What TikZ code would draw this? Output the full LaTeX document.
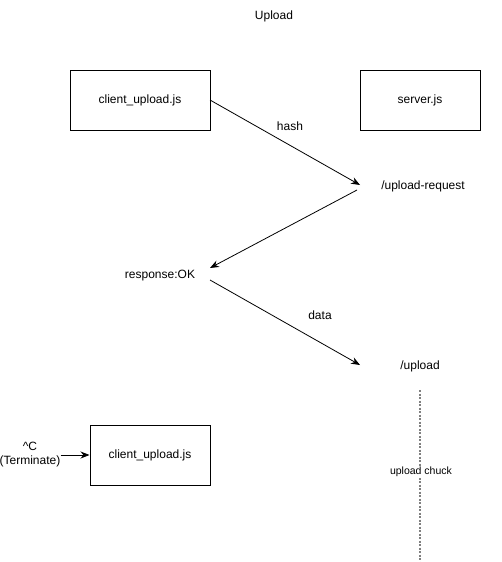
\documentclass[tikz,border=0pt]{standalone}
\usepackage{fontspec}
\setmainfont{Liberation Sans}
\usetikzlibrary{arrows.meta}
\begin{document}
\begin{tikzpicture}[x=1pt,y=-1pt,
  every node/.style={font=\fontsize{12}{14}\selectfont, inner sep=0pt},
  box/.style={draw, line width=1pt, minimum width=#1, minimum height=60pt},
  conn/.style={draw, line width=0.8pt, -{Stealth[length=9pt,width=7pt]}}]
\useasboundingbox (0,0) rectangle (501,562);
\node (title) at (274,16) {Upload};
\node[box=140pt] (c1) at (140,100) {client\_upload.js};
\node[box=120pt] (srv) at (420,100) {server.js};
\coordinate (h1) at (210,100);
\coordinate (h2) at (360,185);
\node (ureq) at (423,186) {/upload-request};
\coordinate (r1) at (357,190);
\coordinate (r2) at (210,268);
\node (resp) at (160,276) {response:OK};
\coordinate (d1) at (210,280);
\coordinate (d2) at (360,365);
\node (up) at (420,366) {/upload};
\draw[conn] (h1) -- (h2);
\node (hash) at (290,126) {hash};
\draw[conn] (r1) -- (r2);
\draw[conn] (d1) -- (d2);
\node (data) at (320,315) {data};
\coordinate (l1) at (420,390);
\coordinate (l2) at (420,562);
\draw[gray, line width=1.2pt, dash pattern=on 2pt off 1.5pt] (l1) -- (l2);
\node[fill=white, font=\fontsize{10.5}{12}\selectfont, inner sep=1pt] (chunk) at (421,472) {upload chuck};
\node[box=120pt] (c2) at (150,455) {client\_upload.js};
\node[align=center] (term) at (30,455) {\^{}C\\(Terminate)};
\draw[conn] (term.east) -- (c2.west);
\end{tikzpicture}
\end{document}
